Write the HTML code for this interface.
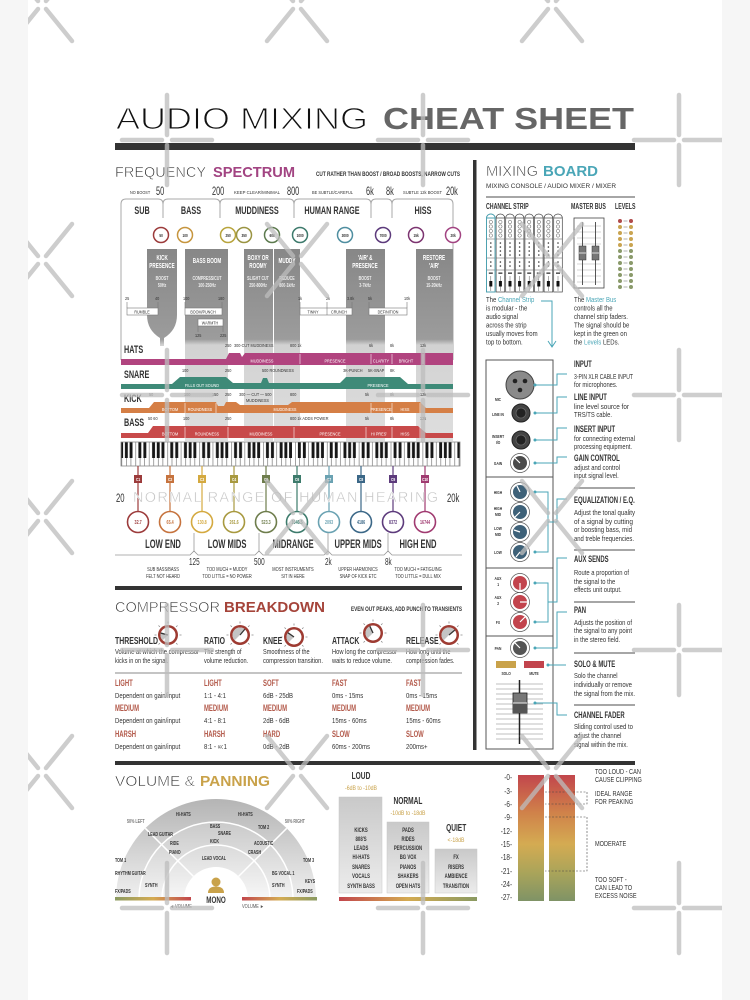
<!DOCTYPE html>
<html><head><meta charset="utf-8">
<style>
html,body{margin:0;padding:0;background:#f6f6f6;}
svg{display:block}
text{font-family:"Liberation Sans Narrow","Liberation Sans",sans-serif;fill:#333;transform-box:fill-box;transform-origin:0 50%;transform:scaleX(.8)}
.b{font-weight:bold}
.b text, text.b{transform:scaleX(.66)}
.c6 text, text.c6{transform:scaleX(.64)}
.m{text-anchor:middle}
.m text, text.m{transform-origin:50% 50%}
.r{text-anchor:end}
.r text, text.r{transform-origin:100% 50%}
.w{fill:#fff}
.g{fill:#555}
.h{font-family:"Liberation Sans",sans-serif}
text.h, text[textLength]{transform:none}
.thin{stroke:#fff;paint-order:normal}
</style></head><body>
<svg width="750" height="1000" viewBox="0 0 750 1000" xmlns="http://www.w3.org/2000/svg">
<defs>
<linearGradient id="col" gradientUnits="userSpaceOnUse" x1="0" y1="249" x2="0" y2="441">
<stop offset="0" stop-color="#878787"/><stop offset="0.47" stop-color="#9c9c9c"/><stop offset="0.5" stop-color="#d2d2d2"/><stop offset="1" stop-color="#dedede"/></linearGradient>
<linearGradient id="meter" x1="0" y1="0" x2="0" y2="1">
<stop offset="0" stop-color="#c2464c"/><stop offset="0.3" stop-color="#d0824a"/><stop offset="0.55" stop-color="#d4ab52"/><stop offset="0.78" stop-color="#a9a45a"/><stop offset="1" stop-color="#7f9366"/></linearGradient>
<linearGradient id="hb" x1="0" y1="0" x2="1" y2="0">
<stop offset="0" stop-color="#c2464c"/><stop offset="0.5" stop-color="#d4ab52"/><stop offset="1" stop-color="#8a9a62"/></linearGradient>
<linearGradient id="hbl" x1="0" y1="0" x2="1" y2="0">
<stop offset="0" stop-color="#8a9a62"/><stop offset="0.5" stop-color="#d4ab52"/><stop offset="1" stop-color="#c2464c"/></linearGradient>
<linearGradient id="box" x1="0" y1="0" x2="0" y2="1">
<stop offset="0" stop-color="#c9c9c9"/><stop offset="1" stop-color="#ececec"/></linearGradient>
<linearGradient id="r1" gradientUnits="userSpaceOnUse" x1="0" y1="800" x2="0" y2="899">
<stop offset="0" stop-color="#b5b5b5"/><stop offset="1" stop-color="#f0f0f0"/></linearGradient>
<linearGradient id="r2" gradientUnits="userSpaceOnUse" x1="0" y1="822" x2="0" y2="899">
<stop offset="0" stop-color="#cacaca"/><stop offset="1" stop-color="#f3f3f3"/></linearGradient>
<linearGradient id="r3" gradientUnits="userSpaceOnUse" x1="0" y1="845" x2="0" y2="899">
<stop offset="0" stop-color="#dadada"/><stop offset="1" stop-color="#f7f7f7"/></linearGradient>
<pattern id="pk" patternUnits="userSpaceOnUse" x="135.5" y="442" width="31.9" height="24">
<rect width="31.9" height="24" fill="#fff"/>
<g stroke="#666" stroke-width="0.6">
<line x1="0.3" y1="0" x2="0.3" y2="24"/><line x1="4.56" y1="0" x2="4.56" y2="24"/><line x1="9.11" y1="0" x2="9.11" y2="24"/><line x1="13.67" y1="0" x2="13.67" y2="24"/><line x1="18.23" y1="0" x2="18.23" y2="24"/><line x1="22.79" y1="0" x2="22.79" y2="24"/><line x1="27.34" y1="0" x2="27.34" y2="24"/>
</g>
<g fill="#161616">
<rect x="2.9" y="0" width="2.9" height="16"/><rect x="7.9" y="0" width="2.9" height="16"/><rect x="16.6" y="0" width="2.9" height="16"/><rect x="21.3" y="0" width="2.9" height="16"/><rect x="26.0" y="0" width="2.9" height="16"/>
</g>
</pattern>
<clipPath id="top"><rect x="0" y="0" width="750" height="899"/></clipPath>
<clipPath id="page"><rect x="28" y="0" width="694" height="1000"/></clipPath>
<g id="cs">
<path d="M0.5,0 A4.3,4 0 0 1 9.1,0" fill="none" stroke="#444" stroke-width="0.7"/>
<rect x="0.5" y="0" width="8.6" height="74" fill="#fff" stroke="#444" stroke-width="0.7"/>
<g fill="none" stroke="#555" stroke-width="0.5"><circle cx="4.8" cy="4" r="1.7"/><circle cx="4.8" cy="8.5" r="1.7"/><circle cx="4.8" cy="13" r="1.7"/><circle cx="4.8" cy="17.5" r="1.7"/></g>
<g stroke="#555" stroke-width="0.5"><line x1="0.5" y1="21" x2="9.1" y2="21"/><line x1="0.5" y1="40" x2="9.1" y2="40"/><line x1="0.5" y1="52" x2="9.1" y2="52"/><line x1="4.8" y1="58" x2="4.8" y2="73"/></g>
<g fill="#333"><circle cx="4.8" cy="25" r="0.8"/><circle cx="4.8" cy="29" r="0.8"/><circle cx="4.8" cy="33" r="0.8"/><circle cx="4.8" cy="37" r="0.8"/><circle cx="4.8" cy="44" r="0.8"/><circle cx="4.8" cy="48" r="0.8"/><rect x="2.8" y="54.5" width="4" height="1.3"/><rect x="3.3" y="63" width="3" height="5.5" fill="#111"/></g>
</g>
</defs>

<rect width="750" height="1000" fill="#f6f6f6"/>
<rect x="28" y="0" width="694" height="1000" fill="#fff"/>

<!-- TITLE -->
<text x="116" y="129" font-size="31" class="h thin" stroke-width="1.1" style="fill:#111" textLength="252" lengthAdjust="spacingAndGlyphs">AUDIO MIXING</text>
<text x="383" y="129" font-size="31" class="h b" style="fill:#666" textLength="251" lengthAdjust="spacingAndGlyphs">CHEAT SHEET</text>
<rect x="115" y="143" width="520" height="7" fill="#333"/>

<!-- FREQUENCY SPECTRUM -->
<text x="115" y="177" font-size="15" class="h thin" stroke-width="0.6" style="fill:#222" textLength="91" lengthAdjust="spacingAndGlyphs">FREQUENCY</text>
<text x="213" y="177" font-size="15" class="h b" style="fill:#a24482" textLength="82" lengthAdjust="spacingAndGlyphs">SPECTRUM</text>
<text x="316" y="176" font-size="6.3" class="b" textLength="144" lengthAdjust="spacingAndGlyphs">CUT RATHER THAN BOOST  /  BROAD BOOSTS, NARROW CUTS</text>

<g font-size="4.8" class="g">
<text x="130" y="194">NO BOOST</text>
<text x="234" y="194" textLength="46" lengthAdjust="spacingAndGlyphs">KEEP CLEAR/MINIMAL</text>
<text x="312" y="194" textLength="41" lengthAdjust="spacingAndGlyphs">BE SUBTLE/CAREFUL</text>
<text x="403" y="194" textLength="39" lengthAdjust="spacingAndGlyphs">SUBTLE 12k BOOST</text>
</g>
<g font-size="11.5" class="c6">
<text x="156" y="195">50</text><text x="212" y="195">200</text><text x="287" y="195">800</text><text x="366" y="195">6k</text><text x="386" y="195">8k</text><text x="446" y="195">20k</text>
</g>

<!-- tabs -->
<g fill="none" stroke="#a8a8a8" stroke-width="1">
<path d="M121,360 V204 Q121,199 126,199 H158 Q163,199 163,204 V218"/>
<path d="M163,218 V204 Q163,199 168,199 H215 Q220,199 220,204 V218"/>
<path d="M220,218 V204 Q220,199 225,199 H289 Q294,199 294,204 V218"/>
<path d="M294,218 V204 Q294,199 299,199 H366 Q371,199 371,204 V218"/>
<path d="M371,218 V204 Q371,199 376,199 H387 Q392,199 392,204 V218"/>
<path d="M392,218 V204 Q392,199 397,199 H448 Q453,199 453,204 V360"/>
</g>
<g font-size="11" class="b m" style="fill:#333">
<text x="142" y="214">SUB</text><text x="191" y="214">BASS</text><text x="257" y="214">MUDDINESS</text><text x="332" y="214">HUMAN RANGE</text><text x="423" y="214">HISS</text>
</g>

<!-- gray columns -->
<g fill="url(#col)">
<path d="M147,249 H177 V315 Q177,330 164,338 V346 H160 V338 Q147,330 147,315 Z"/>
<rect x="185" y="249" width="43" height="192"/>
<rect x="244" y="249" width="29" height="192"/>
<rect x="274" y="249" width="26" height="192"/>
<rect x="346" y="249" width="39" height="192"/>
<rect x="416" y="249" width="37" height="192"/>
</g>
<g font-size="7" class="b m">
<text x="162" y="260" class="w">KICK</text><text x="162" y="268" class="w">PRESENCE</text>
<text x="207" y="263" class="w">BASS BOOM</text>
<text x="258" y="260" class="w">BOXY OR</text><text x="258" y="268" class="w">ROOMY</text>
<text x="287" y="263" class="w">MUDDY</text>
<text x="365" y="260" class="w">'AIR' &amp;</text><text x="365" y="268" class="w">PRESENCE</text>
<text x="434" y="260" class="w">RESTORE</text><text x="434" y="268" class="w">'AIR'</text>
</g>
<g font-size="5.5" class="b m">
<text x="162" y="280" style="fill:#eee">BOOST</text><text x="162" y="287" style="fill:#eee">50Hz</text>
<text x="207" y="280" style="fill:#eee">COMPRESS/CUT</text><text x="207" y="287" style="fill:#eee">100-250Hz</text>
<text x="258" y="280" style="fill:#eee">SLIGHT CUT</text><text x="258" y="287" style="fill:#eee">250-800Hz</text>
<text x="287" y="280" style="fill:#eee">REDUCE</text><text x="287" y="287" style="fill:#eee">800-1kHz</text>
<text x="365" y="280" style="fill:#eee">BOOST</text><text x="365" y="287" style="fill:#eee">3-7kHz</text>
<text x="434" y="280" style="fill:#eee">BOOST</text><text x="434" y="287" style="fill:#eee">15-20kHz</text>
</g>

<!-- top frequency circles -->
<g fill="#fff" stroke-width="1.5">
<circle cx="161" cy="235" r="7.5" stroke="#9c3b3b"/>
<circle cx="185" cy="235" r="7.5" stroke="#c6953e"/>
<circle cx="228" cy="235" r="7.5" stroke="#b8a43c"/>
<circle cx="244" cy="235" r="7.5" stroke="#9a9442"/>
<circle cx="272" cy="235" r="7.5" stroke="#5c7a4e"/>
<circle cx="300" cy="235" r="7.5" stroke="#3d7a6c"/>
<circle cx="345" cy="235" r="7.5" stroke="#4f8ea0"/>
<circle cx="383" cy="235" r="7.5" stroke="#5d3b7c"/>
<circle cx="416" cy="235" r="7.5" stroke="#7c3470"/>
<circle cx="453" cy="235" r="7.5" stroke="#a24482"/>
</g>
<g font-size="4.8" class="b m">
<text x="161" y="237">50</text><text x="185" y="237">100</text><text x="228" y="237">250</text><text x="244" y="237">350</text><text x="272" y="237">600</text><text x="300" y="237">1000</text><text x="345" y="237">3000</text><text x="383" y="237">7000</text><text x="416" y="237">15k</text><text x="453" y="237">20k</text>
</g>

<!-- brackets -->
<g font-size="4.8" class="g">
<text x="125" y="300">25</text><text x="155" y="300">40</text>
<text x="183" y="300">100</text><text x="218" y="300">180</text>
<text x="298" y="300">1k</text><text x="326" y="300">2k</text><text x="347" y="300">3.8k</text>
<text x="368" y="300">5k</text><text x="404" y="300">10k</text>
<text x="195" y="337">125</text><text x="220" y="337">225</text>
</g>
<g fill="#fff" stroke="#777" stroke-width="0.6">
<rect x="127" y="308" width="31" height="7"/>
<rect x="185" y="308" width="37" height="7"/>
<rect x="198" y="319" width="25" height="7"/>
<rect x="300" y="308" width="52" height="7"/>
<rect x="369" y="308" width="38" height="7"/>
<path d="M127,302 V308 M158,302 V308 M185,302 V308 M222,302 V308 M198,326 V332 M223,326 V332 M300,302 V308 M327,302 V315 M352,302 V308 M369,302 V308 M407,302 V308" fill="none"/>
</g>
<g font-size="4.6" class="m">
<text x="142" y="313.5">RUMBLE</text><text x="203" y="313.5">BOOM/PUNCH</text><text x="210" y="324.5">WARMTH</text>
<text x="313" y="313.5">TINNY</text><text x="339" y="313.5">CRUNCH</text><text x="388" y="313.5">DEFINITION</text>
</g>

<!-- bands -->
<g font-size="11" class="b">
<text x="124" y="353">HATS</text><text x="124" y="378">SNARE</text><text x="124" y="402">KICK</text><text x="124" y="426">BASS</text>
</g>
<g font-size="4.8" class="g">
<text x="225" y="347">250</text><text x="234" y="347">300-CUT MUDDINESS</text><text x="290" y="347">800 1k</text><text x="369" y="347">6k</text><text x="390" y="347">8k</text><text x="420" y="347">12k</text>
<text x="182" y="372">100</text><text x="225" y="372">250</text><text x="262" y="372">500 ROUNDNESS</text><text x="343" y="372">3K-PUNCH</text><text x="368" y="372">5K-SNAP</text><text x="390" y="372">8K</text>
<text x="149" y="396">50</text><text x="184" y="396">100</text><text x="212" y="396">150</text><text x="225" y="396">250</text><text x="239" y="396">300 — CUT — 500</text><text x="246" y="402">MUDDINESS</text><text x="290" y="396">800</text><text x="365" y="396">5k</text><text x="390" y="396">8k</text><text x="420" y="396">12k</text>
<text x="148" y="420">50 60</text><text x="183" y="420">100</text><text x="225" y="420">250</text><text x="290" y="420">800 1k ADDS POWER</text><text x="365" y="420">5k</text><text x="390" y="420">8k</text><text x="420" y="420">12k</text>
</g>
<polygon fill="#b1447f" points="121,359 226,359 229,353 240,353 242,357 245,353 453,353 453,365 121,365"/>
<polygon fill="#3e8a78" points="121,384 172,384 180,377 226,377 233,383 261,383 263,378 267,378 269,383 340,383 346,377 400,377 408,384 453,384 453,389 121,389"/>
<polygon fill="#d57f46" points="121,408 149,408 154,402 216,402 218,406 224,406 226,402 236,402 240,405 288,405 292,402 420,402 426,408 453,408 453,413 121,413"/>
<polygon fill="#c84a4a" points="121,433 148,433 153,426 418,426 426,433 453,433 453,438 121,438"/>
<g stroke="#fff" stroke-width="0.7" opacity="0.8">
<path d="M300,354 V364 M371,354 V364 M392,354 V364 M423,354 V364 M185,403 V413 M216,403 V413 M371,403 V413 M392,403 V413 M420,403 V413 M185,427 V438 M228,427 V438 M294,427 V438 M366,427 V438 M392,427 V438 M420,427 V438"/>
</g>
<g font-size="4.8" class="m">
<text x="262" y="362.5" class="w">MUDDINESS</text><text x="335" y="362.5" class="w">PRESENCE</text><text x="381" y="362.5" class="w">CLARITY</text><text x="406" y="362.5" class="w">BRIGHT</text>
<text x="202" y="387" class="w">FILLS OUT SOUND</text><text x="378" y="387" class="w">PRESENCE</text>
<text x="170" y="411" class="w">BOTTOM</text><text x="200" y="411" class="w">ROUNDNESS</text><text x="285" y="411" class="w">MUDDINESS</text><text x="381" y="411" class="w">PRESENCE</text><text x="405" y="411" class="w">HISS</text>
<text x="170" y="435.5" class="w">BOTTOM</text><text x="207" y="435.5" class="w">ROUNDNESS</text><text x="261" y="435.5" class="w">MUDDINESS</text><text x="330" y="435.5" class="w">PRESENCE</text><text x="379" y="435.5" class="w">HI PRES'</text><text x="405" y="435.5" class="w">HISS</text>
</g>

<!-- piano -->
<rect x="121" y="442" width="339" height="24" fill="url(#pk)" stroke="#888" stroke-width="0.8"/>

<!-- C labels & circles -->
<g stroke-width="1.2">
<line x1="138" y1="466" x2="138" y2="512" stroke="#9c3b3b"/>
<line x1="170" y1="466" x2="170" y2="512" stroke="#c6733e"/>
<line x1="202" y1="466" x2="202" y2="512" stroke="#d4a93f"/>
<line x1="234" y1="466" x2="234" y2="512" stroke="#a8993f"/>
<line x1="266" y1="466" x2="266" y2="512" stroke="#6e7d4c"/>
<line x1="297" y1="466" x2="297" y2="512" stroke="#3d7b6c"/>
<line x1="329" y1="466" x2="329" y2="512" stroke="#6aa2b2"/>
<line x1="361" y1="466" x2="361" y2="512" stroke="#3b6787"/>
<line x1="393" y1="466" x2="393" y2="512" stroke="#5d3b7c"/>
<line x1="425" y1="466" x2="425" y2="512" stroke="#a03a70"/>
</g>
<g>
<rect x="134" y="475" width="8" height="8" fill="#9c3b3b"/>
<rect x="166" y="475" width="8" height="8" fill="#c6733e"/>
<rect x="198" y="475" width="8" height="8" fill="#d4a93f"/>
<rect x="230" y="475" width="8" height="8" fill="#a8993f"/>
<rect x="262" y="475" width="8" height="8" fill="#6e7d4c"/>
<rect x="293" y="475" width="8" height="8" fill="#3d7b6c"/>
<rect x="325" y="475" width="8" height="8" fill="#6aa2b2"/>
<rect x="357" y="475" width="8" height="8" fill="#3b6787"/>
<rect x="389" y="475" width="8" height="8" fill="#5d3b7c"/>
<rect x="421" y="475" width="8" height="8" fill="#a03a70"/>
</g>
<g font-size="5" class="b m">
<text x="138" y="481" class="w">C1</text><text x="170" y="481" class="w">C2</text><text x="202" y="481" class="w">C3</text><text x="234" y="481" class="w">C4</text><text x="266" y="481" class="w">C5</text><text x="297" y="481" class="w">C6</text><text x="329" y="481" class="w">C7</text><text x="361" y="481" class="w">C8</text><text x="393" y="481" class="w">C9</text><text x="425" y="481" class="w">C10</text>
</g>
<text x="116" y="502" font-size="12" class="c6">20</text>
<text x="133" y="502" font-size="14.5" class="h thin" stroke-width="0.4" style="fill:#c4c4c4" textLength="305" lengthAdjust="spacing">NORMAL RANGE OF HUMAN HEARING</text>
<text x="447" y="502" font-size="12" class="c6">20k</text>
<g fill="#fff" stroke-width="1.6">
<circle cx="138" cy="522" r="10.5" stroke="#9c3b3b"/>
<circle cx="170" cy="522" r="10.5" stroke="#c6733e"/>
<circle cx="202" cy="522" r="10.5" stroke="#d4a93f"/>
<circle cx="234" cy="522" r="10.5" stroke="#a8993f"/>
<circle cx="266" cy="522" r="10.5" stroke="#6e7d4c"/>
<circle cx="297" cy="522" r="10.5" stroke="#3d7b6c"/>
<circle cx="329" cy="522" r="10.5" stroke="#6aa2b2"/>
<circle cx="361" cy="522" r="10.5" stroke="#3b6787"/>
<circle cx="393" cy="522" r="10.5" stroke="#5d3b7c"/>
<circle cx="425" cy="522" r="10.5" stroke="#a03a70"/>
</g>
<g font-size="5.5" class="b m">
<text x="138" y="524" style="fill:#9c3b3b">32.7</text><text x="170" y="524" style="fill:#c6733e">65.4</text><text x="202" y="524" style="fill:#d4a93f">130.8</text><text x="234" y="524" style="fill:#a8993f">261.6</text><text x="266" y="524" style="fill:#6e7d4c">523.3</text><text x="297" y="524" style="fill:#3d7b6c">1046.5</text><text x="329" y="524" style="fill:#6aa2b2">2093</text><text x="361" y="524" style="fill:#3b6787">4186</text><text x="393" y="524" style="fill:#5d3b7c">8372</text><text x="425" y="524" style="fill:#a03a70">16744</text>
</g>
<g font-size="11.5" class="b m">
<text x="163" y="548">LOW END</text><text x="227" y="548">LOW MIDS</text><text x="293" y="548">MIDRANGE</text><text x="358" y="548">UPPER MIDS</text><text x="418" y="548">HIGH END</text>
</g>
<g stroke="#999" stroke-width="0.8" fill="none">
<path d="M115,555 H190 L194,551 L198,555 H255 L259,551 L263,555 H324 L328,551 L332,555 H384 L388,551 L392,555 H462"/>
<path d="M194,533 V551 M259,533 V551 M328,533 V551 M388,533 V551"/>
</g>
<g font-size="10" class="c6">
<text x="189" y="565">125</text><text x="254" y="565">500</text><text x="325" y="565">2k</text><text x="385" y="565">8k</text>
</g>
<g font-size="5" class="m g">
<text x="163" y="571">SUB BASS/BASS</text><text x="163" y="578">FELT NOT HEARD</text>
<text x="227" y="571">TOO MUCH = MUDDY</text><text x="227" y="578">TOO LITTLE = NO POWER</text>
<text x="293" y="571">MOST INSTRUMENTS</text><text x="293" y="578">SIT IN HERE</text>
<text x="358" y="571">UPPER HARMONICS</text><text x="358" y="578">SNAP OF KICK ETC</text>
<text x="418" y="571">TOO MUCH = FATIGUING</text><text x="418" y="578">TOO LITTLE = DULL MIX</text>
</g>
<rect x="115" y="586" width="347" height="4" fill="#333"/>

<!-- COMPRESSOR -->
<text x="115" y="612" font-size="15" class="h thin" stroke-width="0.6" style="fill:#222" textLength="105" lengthAdjust="spacingAndGlyphs">COMPRESSOR</text>
<text x="224" y="612" font-size="15" class="h b" style="fill:#a5443a" textLength="101" lengthAdjust="spacingAndGlyphs">BREAKDOWN</text>
<text x="351" y="611" font-size="6.3" class="b" textLength="111" lengthAdjust="spacingAndGlyphs">EVEN OUT PEAKS, ADD PUNCH TO TRANSIENTS</text>

<g id="knobs">
<g transform="translate(168,635)">
<g stroke="#888" stroke-width="0.8"><path d="M0,-11.5 V-13.5 M8.1,-8.1 L9.5,-9.5 M-8.1,-8.1 L-9.5,-9.5 M11.5,0 H13.5 M-11.5,0 H-13.5 M8.1,8.1 L9.5,9.5 M-8.1,8.1 L-9.5,9.5"/></g>
<circle r="10" fill="#9e3b32"/><circle r="7.5" fill="#fff"/>
<path d="M0,0 L-5.3,5.3 A7.5,7.5 0 0 1 -7.24,-1.94 Z" fill="#c4c4c4"/>
<line x1="0" y1="0" x2="-7.24" y2="-1.94" stroke="#333" stroke-width="1.3"/>
</g>
<g transform="translate(240,635)">
<g stroke="#888" stroke-width="0.8"><path d="M0,-11.5 V-13.5 M8.1,-8.1 L9.5,-9.5 M-8.1,-8.1 L-9.5,-9.5 M11.5,0 H13.5 M-11.5,0 H-13.5 M8.1,8.1 L9.5,9.5 M-8.1,8.1 L-9.5,9.5"/></g>
<circle r="10" fill="#9e3b32"/><circle r="7.5" fill="#fff"/>
<path d="M0,0 L-5.3,5.3 A7.5,7.5 0 0 1 4.82,-5.75 Z" fill="#c4c4c4"/>
<line x1="0" y1="0" x2="4.82" y2="-5.75" stroke="#333" stroke-width="1.3"/>
</g>
<g transform="translate(294,637)">
<g stroke="#888" stroke-width="0.8"><path d="M0,-11.5 V-13.5 M8.1,-8.1 L9.5,-9.5 M-8.1,-8.1 L-9.5,-9.5 M11.5,0 H13.5 M-11.5,0 H-13.5 M8.1,8.1 L9.5,9.5 M-8.1,8.1 L-9.5,9.5"/></g>
<circle r="10" fill="#9e3b32"/><circle r="7.5" fill="#fff"/>
<path d="M0,0 L-5.3,5.3 A7.5,7.5 0 0 1 -6.14,-4.3 Z" fill="#c4c4c4"/>
<line x1="0" y1="0" x2="-6.14" y2="-4.3" stroke="#333" stroke-width="1.3"/>
</g>
<g transform="translate(373,633)">
<g stroke="#888" stroke-width="0.8"><path d="M0,-11.5 V-13.5 M8.1,-8.1 L9.5,-9.5 M-8.1,-8.1 L-9.5,-9.5 M11.5,0 H13.5 M-11.5,0 H-13.5 M8.1,8.1 L9.5,9.5 M-8.1,8.1 L-9.5,9.5"/></g>
<circle r="10" fill="#9e3b32"/><circle r="7.5" fill="#fff"/>
<path d="M0,0 L-5.3,5.3 A7.5,7.5 0 0 1 -3.17,-6.8 Z" fill="#c4c4c4"/>
<line x1="0" y1="0" x2="-3.17" y2="-6.8" stroke="#333" stroke-width="1.3"/>
</g>
<g transform="translate(449,635)">
<g stroke="#888" stroke-width="0.8"><path d="M0,-11.5 V-13.5 M8.1,-8.1 L9.5,-9.5 M-8.1,-8.1 L-9.5,-9.5 M11.5,0 H13.5 M-11.5,0 H-13.5 M8.1,8.1 L9.5,9.5 M-8.1,8.1 L-9.5,9.5"/></g>
<circle r="10" fill="#9e3b32"/><circle r="7.5" fill="#fff"/>
<path d="M0,0 L-5.3,5.3 A7.5,7.5 0 1 1 5.75,-4.82 Z" fill="#c4c4c4"/>
<line x1="0" y1="0" x2="5.75" y2="-4.82" stroke="#333" stroke-width="1.3"/>
</g>
</g>
<g font-size="10.5" class="b">
<text x="115" y="644">THRESHOLD</text><text x="204" y="644">RATIO</text><text x="263" y="644">KNEE</text><text x="332" y="644">ATTACK</text><text x="406" y="644">RELEASE</text>
</g>
<g font-size="7">
<text x="115" y="654" textLength="84" lengthAdjust="spacingAndGlyphs">Volume at which the compressor</text><text x="115" y="663">kicks in on the signal.</text>
<text x="204" y="654">The strength of</text><text x="204" y="663">volume reduction.</text>
<text x="263" y="654">Smoothness of the</text><text x="263" y="663" textLength="60" lengthAdjust="spacingAndGlyphs">compression transition.</text>
<text x="332" y="654" textLength="65" lengthAdjust="spacingAndGlyphs">How long the compressor</text><text x="332" y="663" textLength="60" lengthAdjust="spacingAndGlyphs">waits to reduce volume.</text>
<text x="406" y="654">How long until the</text><text x="406" y="663">compression fades.</text>
</g>
<line x1="115" y1="673" x2="462" y2="673" stroke="#888" stroke-width="1"/>
<g font-size="9" class="b">
<text x="115" y="686" style="fill:#b35a4b">LIGHT</text><text x="204" y="686" style="fill:#b35a4b">LIGHT</text><text x="263" y="686" style="fill:#b35a4b">SOFT</text><text x="332" y="686" style="fill:#b35a4b">FAST</text><text x="406" y="686" style="fill:#b35a4b">FAST</text>
<text x="115" y="711" style="fill:#b35a4b">MEDIUM</text><text x="204" y="711" style="fill:#b35a4b">MEDIUM</text><text x="263" y="711" style="fill:#b35a4b">MEDIUM</text><text x="332" y="711" style="fill:#b35a4b">MEDIUM</text><text x="406" y="711" style="fill:#b35a4b">MEDIUM</text>
<text x="115" y="737" style="fill:#b35a4b">HARSH</text><text x="204" y="737" style="fill:#b35a4b">HARSH</text><text x="263" y="737" style="fill:#b35a4b">HARD</text><text x="332" y="737" style="fill:#b35a4b">SLOW</text><text x="406" y="737" style="fill:#b35a4b">SLOW</text>
</g>
<g font-size="7.5">
<text x="115" y="698">Dependent on gain/input</text><text x="204" y="698">1:1 - 4:1</text><text x="263" y="698">6dB - 25dB</text><text x="332" y="698">0ms - 15ms</text><text x="406" y="698">0ms - 15ms</text>
<text x="115" y="723">Dependent on gain/input</text><text x="204" y="723">4:1 - 8:1</text><text x="263" y="723">2dB - 6dB</text><text x="332" y="723">15ms - 60ms</text><text x="406" y="723">15ms - 60ms</text>
<text x="115" y="749">Dependent on gain/input</text><text x="204" y="749">8:1 - ∞:1</text><text x="263" y="749">0dB - 2dB</text><text x="332" y="749">60ms - 200ms</text><text x="406" y="749">200ms+</text>
</g>
<rect x="115" y="761" width="520" height="4" fill="#333"/>

<!-- VOLUME & PANNING -->
<text x="115" y="786" font-size="15" class="h thin" stroke-width="0.6" style="fill:#222" textLength="80" lengthAdjust="spacingAndGlyphs">VOLUME &amp;</text>
<text x="200" y="786" font-size="15" class="h b" style="fill:#c9a24a" textLength="70" lengthAdjust="spacingAndGlyphs">PANNING</text>
<g clip-path="url(#top)">
<circle cx="216" cy="899" r="100" fill="url(#r1)"/>
<circle cx="216" cy="899" r="77" fill="url(#r2)" stroke="#fff" stroke-width="1.5"/>
<circle cx="216" cy="899" r="54" fill="url(#r3)" stroke="#fff" stroke-width="1.5"/>
<circle cx="216" cy="899" r="32" fill="#fff"/>
<path d="M193.4,876.4 L145.3,828.3 M238.6,876.4 L286.7,828.3" stroke="#fff" stroke-width="1.5"/>
</g>
<g font-size="5.6" class="b">
<text x="127" y="823" style="fill:#777">50% LEFT</text><text x="285" y="823" style="fill:#777">50% RIGHT</text>
<text x="176" y="816">HI-HATS</text><text x="238" y="816">HI-HATS</text>
<text x="210" y="828">BASS</text><text x="218" y="835">SNARE</text><text x="210" y="843">KICK</text>
<text x="258" y="829">TOM 2</text>
<text x="148" y="836">LEAD GUITAR</text><text x="170" y="845">RIDE</text><text x="169" y="854">PIANO</text>
<text x="254" y="845">ACOUSTIC</text><text x="248" y="854">CRASH</text>
<text x="202" y="860">LEAD VOCAL</text>
<text x="115" y="862">TOM 1</text><text x="303" y="862">TOM 3</text>
<text x="115" y="875">RHYTHM GUITAR</text><text x="272" y="875">BG VOCAL 1</text>
<text x="145" y="887">SYNTH</text><text x="272" y="887">SYNTH</text><text x="305" y="883">KEYS</text>
<text x="115" y="893">FX/PADS</text><text x="297" y="893">FX/PADS</text>
</g>
<circle cx="216" cy="882" r="4.5" fill="#c9a24a"/>
<path d="M208,893 Q208,886.5 216,886.5 Q224,886.5 224,893 Z" fill="#c9a24a"/>
<text x="216" y="903" font-size="9.5" class="b m">MONO</text>
<rect x="115" y="897" width="76" height="3.5" fill="url(#hbl)"/>
<rect x="242" y="897" width="75" height="3.5" fill="url(#hb)"/>
<text x="170" y="908" font-size="5" class="g">◄ VOLUME</text>
<text x="242" y="908" font-size="5" class="g">VOLUME ►</text>

<!-- loudness boxes -->
<rect x="339" y="797" width="43" height="96" fill="url(#box)" stroke="#c8c8c8" stroke-width="0.5"/>
<rect x="387" y="822" width="42" height="71" fill="url(#box)" stroke="#c8c8c8" stroke-width="0.5"/>
<rect x="435" y="849" width="42" height="44" fill="url(#box)" stroke="#c8c8c8" stroke-width="0.5"/>
<rect x="339" y="897" width="138" height="4" fill="url(#hb)"/>
<g font-size="10" class="b m">
<text x="361" y="779">LOUD</text><text x="408" y="804">NORMAL</text><text x="456" y="831">QUIET</text>
</g>
<g font-size="6.5" class="m">
<text x="361" y="790" style="fill:#c9a24a">-6dB to -10dB</text><text x="408" y="815" style="fill:#c9a24a">-10dB to -18dB</text><text x="456" y="842" style="fill:#c9a24a">&lt;-18dB</text>
</g>
<g font-size="6.5" class="b m">
<text x="361" y="832">KICKS</text><text x="361" y="841">808'S</text><text x="361" y="850">LEADS</text><text x="361" y="859">HI-HATS</text><text x="361" y="869">SNARES</text><text x="361" y="878">VOCALS</text><text x="361" y="888">SYNTH BASS</text>
<text x="408" y="832">PADS</text><text x="408" y="841">RIDES</text><text x="408" y="850">PERCUSSION</text><text x="408" y="859">BG VOX</text><text x="408" y="869">PIANOS</text><text x="408" y="878">SHAKERS</text><text x="408" y="888">OPEN HATS</text>
<text x="456" y="859">FX</text><text x="456" y="869">RISERS</text><text x="456" y="878">AMBIENCE</text><text x="456" y="888">TRANSITION</text>
</g>

<!-- meter -->
<rect x="518" y="775" width="26" height="126" fill="url(#meter)"/>
<rect x="549" y="775" width="26" height="126" fill="url(#meter)"/>
<g font-size="8" class="r">
<text x="512" y="780">-0-</text><text x="512" y="794">-3-</text><text x="512" y="807">-6-</text><text x="512" y="820">-9-</text><text x="512" y="834">-12-</text><text x="512" y="847">-15-</text><text x="512" y="860">-18-</text><text x="512" y="874">-21-</text><text x="512" y="887">-24-</text><text x="512" y="900">-27-</text>
</g>
<g fill="none" stroke="#444" stroke-width="0.6" stroke-dasharray="2,1.5">
<path d="M545,792 H587 V804 H545"/>
<path d="M545,817 H587 V871 H545"/>
</g>
<g font-size="7">
<text x="595" y="774">TOO LOUD - CAN</text><text x="595" y="782">CAUSE CLIPPING</text>
<text x="595" y="796">IDEAL RANGE</text><text x="595" y="804">FOR PEAKING</text>
<text x="595" y="846">MODERATE</text>
<text x="595" y="882">TOO SOFT -</text><text x="595" y="890">CAN LEAD TO</text><text x="595" y="898">EXCESS NOISE</text>
</g>

<!-- MIXING BOARD -->
<rect x="473" y="160" width="3.5" height="590" fill="#333"/>
<text x="486" y="176" font-size="15" class="h thin" stroke-width="0.6" style="fill:#222" textLength="52" lengthAdjust="spacingAndGlyphs">MIXING</text>
<text x="543" y="176" font-size="15" class="h b" style="fill:#4aa6b7" textLength="55" lengthAdjust="spacingAndGlyphs">BOARD</text>
<text x="486" y="188" font-size="6" textLength="130" lengthAdjust="spacingAndGlyphs">MIXING CONSOLE / AUDIO MIXER / MIXER</text>
<line x1="486" y1="197" x2="635" y2="197" stroke="#888" stroke-width="1.5"/>
<g font-size="8" class="b">
<text x="486" y="209">CHANNEL STRIP</text><text x="571" y="209">MASTER BUS</text><text x="615" y="209">LEVELS</text>
</g>
<use href="#cs" x="486" y="218"/><use href="#cs" x="495.6" y="218"/><use href="#cs" x="505.2" y="218"/><use href="#cs" x="514.8" y="218"/><use href="#cs" x="524.4" y="218"/><use href="#cs" x="534" y="218"/><use href="#cs" x="543.6" y="218"/><use href="#cs" x="553.2" y="218"/>
<rect x="486.5" y="218" width="8.6" height="74" fill="none" stroke="#4aa6b7" stroke-width="0.9"/>
<path d="M486.5,218 A4.3,4 0 0 1 495.1,218" fill="none" stroke="#4aa6b7" stroke-width="0.9"/>
<!-- master bus -->
<rect x="574" y="218" width="30" height="70" fill="#fff" stroke="#444" stroke-width="0.8"/>
<g stroke="#aaa" stroke-width="0.5"><path d="M577,226 H601 M577,232 H601 M577,238 H601 M577,244 H601 M577,264 H601 M577,270 H601 M577,276 H601 M577,282 H601"/></g>
<path d="M582.5,222 V285 M595.5,222 V285" stroke="#444" stroke-width="0.9"/>
<rect x="579" y="246" width="7" height="14" fill="#777" stroke="#333" stroke-width="0.5"/>
<rect x="592" y="246" width="7" height="14" fill="#777" stroke="#333" stroke-width="0.5"/>
<path d="M579,253 H586 M592,253 H599" stroke="#ddd" stroke-width="1"/>
<!-- levels -->
<g>
<circle cx="620" cy="221" r="2" fill="#b04a4a"/><circle cx="631" cy="221" r="2" fill="#b04a4a"/>
<circle cx="620" cy="227" r="2" fill="#c9a450"/><circle cx="631" cy="227" r="2" fill="#c9a450"/>
<circle cx="620" cy="233" r="2" fill="#c9a450"/><circle cx="631" cy="233" r="2" fill="#c9a450"/>
<circle cx="620" cy="239" r="2" fill="#c9a450"/><circle cx="631" cy="239" r="2" fill="#c9a450"/>
<circle cx="620" cy="245" r="2" fill="#c9a450"/><circle cx="631" cy="245" r="2" fill="#c9a450"/>
<circle cx="620" cy="251" r="2" fill="#8a9a6a"/><circle cx="631" cy="251" r="2" fill="#8a9a6a"/>
<circle cx="620" cy="257" r="2" fill="#8a9a6a"/><circle cx="631" cy="257" r="2" fill="#8a9a6a"/>
<circle cx="620" cy="263" r="2" fill="#8a9a6a"/><circle cx="631" cy="263" r="2" fill="#8a9a6a"/>
<circle cx="620" cy="269" r="2" fill="#8a9a6a"/><circle cx="631" cy="269" r="2" fill="#8a9a6a"/>
<circle cx="620" cy="275" r="2" fill="#8a9a6a"/><circle cx="631" cy="275" r="2" fill="#8a9a6a"/>
<circle cx="620" cy="281" r="2" fill="#8a9a6a"/><circle cx="631" cy="281" r="2" fill="#8a9a6a"/>
<circle cx="620" cy="287" r="2" fill="#8a9a6a"/><circle cx="631" cy="287" r="2" fill="#8a9a6a"/>
<path d="M623.5,221 H627.5 M623.5,227 H627.5 M623.5,233 H627.5 M623.5,239 H627.5 M623.5,245 H627.5 M623.5,251 H627.5 M623.5,257 H627.5 M623.5,263 H627.5 M623.5,269 H627.5 M623.5,275 H627.5 M623.5,281 H627.5 M623.5,287 H627.5" stroke="#999" stroke-width="0.7"/>
</g>
<g font-size="7.5">
<text x="486" y="302">The <tspan style="fill:#4aa6b7">Channel Strip</tspan></text>
<text x="486" y="310.5">is modular - the</text><text x="486" y="319">audio signal</text><text x="486" y="327.5">across the strip</text><text x="486" y="336">usually moves from</text><text x="486" y="344.5">top to bottom.</text>
<text x="574" y="302">The <tspan style="fill:#4aa6b7">Master Bus</tspan></text>
<text x="574" y="310.5">controls all the</text><text x="574" y="319">channel strip faders.</text><text x="574" y="327.5">The signal should be</text><text x="574" y="336">kept in the green on</text><text x="574" y="344.5">the <tspan style="fill:#4aa6b7">Levels</tspan> LEDs.</text>
</g>
<path d="M541,301 H552 V346 M548,341 L552,347 L556,341" fill="none" stroke="#4aa6b7" stroke-width="1"/>

<!-- mixer box -->
<rect x="486" y="360" width="67" height="389" fill="#fff" stroke="#555" stroke-width="1"/>
<path d="M486,477 H553 M486,568 H553 M486,636 H553" stroke="#555" stroke-width="1"/>
<circle cx="520" cy="385" r="14" fill="#8a8a8a" stroke="#444" stroke-width="1"/>
<circle cx="515" cy="381" r="2.3" fill="#222"/><circle cx="525" cy="381" r="2.3" fill="#222"/><circle cx="520" cy="390" r="2.3" fill="#222"/>
<circle cx="521" cy="413" r="9" fill="#444" stroke="#222" stroke-width="1"/><circle cx="521" cy="413" r="5" fill="#222" stroke="#666" stroke-width="0.8"/>
<circle cx="521" cy="440" r="9" fill="#444" stroke="#222" stroke-width="1"/><circle cx="521" cy="440" r="5" fill="#222" stroke="#666" stroke-width="0.8"/>
<g fill="#fff" stroke="#555" stroke-width="0.7">
<circle cx="520" cy="463" r="9.5"/><circle cx="520" cy="492" r="9.5"/><circle cx="520" cy="512" r="9.5"/><circle cx="520" cy="532" r="9.5"/><circle cx="520" cy="552" r="9.5"/>
<circle cx="520" cy="583" r="9.5"/><circle cx="520" cy="602" r="9.5"/><circle cx="520" cy="622" r="9.5"/><circle cx="520" cy="648" r="9.5"/>
</g>
<circle cx="520" cy="463" r="7" fill="#4a4a4a"/>
<g fill="#3e6178"><circle cx="520" cy="492" r="7"/><circle cx="520" cy="512" r="7"/><circle cx="520" cy="532" r="7"/><circle cx="520" cy="552" r="7"/></g>
<g fill="#c2444d"><circle cx="520" cy="583" r="7"/><circle cx="520" cy="602" r="7"/><circle cx="520" cy="622" r="7"/></g>
<circle cx="520" cy="648" r="7" fill="#555"/>
<g stroke="#fff" stroke-width="1.2">
<path d="M520,463 L515,458 M520,492 L517,486 M520,512 L515,517 M520,532 L514,530 M520,552 L516,557 M520,583 L520,590 M520,602 L527,602 M520,622 L525,617 M520,648 L515,643"/>
</g>
<rect x="496" y="661" width="20" height="7" fill="#c9a24a"/>
<rect x="524" y="661" width="20" height="7" fill="#c2444d"/>
<g stroke="#aaa" stroke-width="0.7"><path d="M496,684 H543 M496,689 H543 M496,694 H543 M496,699 H543 M496,704 H543 M496,709 H543 M496,714 H543 M496,719 H543 M496,724 H543 M496,729 H543 M496,734 H543 M496,739 H543"/></g>
<line x1="519.5" y1="680" x2="519.5" y2="744" stroke="#222" stroke-width="1.5"/>
<rect x="513" y="693" width="14" height="20" fill="#777" stroke="#222" stroke-width="0.8"/>
<rect x="513" y="703" width="14" height="10" fill="#555"/>
<line x1="513" y1="703" x2="527" y2="703" stroke="#eee" stroke-width="1"/>
<g font-size="5" class="b m">
<text x="498" y="401">MIC</text><text x="498" y="416">LINE IN</text><text x="498" y="438">INSERT</text><text x="498" y="444">I/O</text><text x="498" y="465">GAIN</text>
<text x="498" y="494">HIGH</text><text x="498" y="510">HIGH</text><text x="498" y="516">MID</text><text x="498" y="530">LOW</text><text x="498" y="536">MID</text><text x="498" y="554">LOW</text>
<text x="498" y="580">AUX</text><text x="498" y="586">1</text><text x="498" y="599">AUX</text><text x="498" y="605">2</text><text x="498" y="624">FX</text><text x="498" y="650">PAN</text>
<text x="506" y="675">SOLO</text><text x="534" y="675">MUTE</text>
</g>
<g fill="none" stroke="#4aa6b7" stroke-width="1">
<path d="M535,385 H557 V374 H567"/>
<path d="M535,413 H557 V397 H567"/>
<path d="M535,440 H557 V428 H567"/>
<path d="M535,463 H557 V457 H567"/>
<path d="M535,492 H548 V552 H535 M548,522 H557 V499 H567"/>
<path d="M535,583 H548 V622 H535 M548,602 H557 V558 H567"/>
<path d="M535,648 H557 V612 H567"/>
<path d="M548,665 H566"/>
<path d="M535,703 H557 V715 H567"/>
</g>
<g fill="#4aa6b7"><circle cx="535" cy="385" r="1.5"/><circle cx="535" cy="413" r="1.5"/><circle cx="535" cy="440" r="1.5"/><circle cx="535" cy="463" r="1.5"/><circle cx="535" cy="492" r="1.5"/><circle cx="535" cy="552" r="1.5"/><circle cx="535" cy="583" r="1.5"/><circle cx="535" cy="622" r="1.5"/><circle cx="535" cy="648" r="1.5"/><circle cx="548" cy="665" r="1.5"/><circle cx="535" cy="703" r="1.5"/></g>

<g font-size="9" class="b">
<text x="574" y="367">INPUT</text><text x="574" y="400">LINE INPUT</text><text x="574" y="432">INSERT INPUT</text><text x="574" y="461">GAIN CONTROL</text>
<text x="574" y="503">EQUALIZATION / E.Q.</text><text x="574" y="562">AUX SENDS</text><text x="574" y="613">PAN</text><text x="574" y="667">SOLO &amp; MUTE</text><text x="574" y="718">CHANNEL FADER</text>
</g>
<g font-size="7.3">
<text x="574" y="379" textLength="59" lengthAdjust="spacingAndGlyphs">3-PIN XLR CABLE INPUT</text><text x="574" y="387">for microphones.</text>
<text x="574" y="409" textLength="55" lengthAdjust="spacingAndGlyphs">line level source for</text><text x="574" y="417">TRS/TS cable.</text>
<text x="574" y="441" textLength="61" lengthAdjust="spacingAndGlyphs">for connecting external</text><text x="574" y="449" textLength="58" lengthAdjust="spacingAndGlyphs">processing equipment.</text>
<text x="574" y="470">adjust and control</text><text x="574" y="478">input signal level.</text>
<text x="574" y="515" textLength="61" lengthAdjust="spacingAndGlyphs">Adjust the tonal quality</text><text x="574" y="524" textLength="59" lengthAdjust="spacingAndGlyphs">of a signal by cutting</text><text x="574" y="532" textLength="58" lengthAdjust="spacingAndGlyphs">or boosting bass, mid</text><text x="574" y="541" textLength="60" lengthAdjust="spacingAndGlyphs">and treble frequencies.</text>
<text x="574" y="575" textLength="55" lengthAdjust="spacingAndGlyphs">Route a proportion of</text><text x="574" y="584">the signal to the</text><text x="574" y="592">effects unit output.</text>
<text x="574" y="625" textLength="58" lengthAdjust="spacingAndGlyphs">Adjusts the position of</text><text x="574" y="633" textLength="58" lengthAdjust="spacingAndGlyphs">the signal to any point</text><text x="574" y="642">in the stereo field.</text>
<text x="574" y="678">Solo the channel</text><text x="574" y="687" textLength="58" lengthAdjust="spacingAndGlyphs">individually or remove</text><text x="574" y="696" textLength="61" lengthAdjust="spacingAndGlyphs">the signal from the mix.</text>
<text x="574" y="729" textLength="59" lengthAdjust="spacingAndGlyphs">Sliding control used to</text><text x="574" y="738">adjust the channel</text><text x="574" y="747">signal within the mix.</text>
</g>
<g stroke="#888" stroke-width="1.5"><path d="M574,488 H635 M574,550 H635 M574,602 H635 M574,653 H635 M574,705 H635"/></g>

<!-- watermarks -->
<g clip-path="url(#page)" stroke="#bdbdbd" stroke-width="4.5" stroke-linecap="round" fill="none" opacity="0.75">
<path d="M167,95 V135 M167,145 V185 M122,140 H162 M172,140 H212 M423,95 V135 M423,145 V185 M378,140 H418 M428,140 H468 M679,95 V135 M679,145 V185 M634,140 H674 M684,140 H724"/>
<path d="M167,350 V390 M167,400 V440 M122,395 H162 M172,395 H212 M423,350 V390 M423,400 V440 M378,395 H418 M428,395 H468 M679,350 V390 M679,400 V440 M634,395 H674 M684,395 H724"/>
<path d="M167,605 V645 M167,655 V695 M122,650 H162 M172,650 H212 M423,605 V645 M423,655 V695 M378,650 H418 M428,650 H468 M679,605 V645 M679,655 V695 M634,650 H674 M684,650 H724"/>
<path d="M167,863 V903 M167,913 V953 M122,908 H162 M172,908 H212 M423,863 V903 M423,913 V953 M378,908 H418 M428,908 H468 M679,863 V903 M679,913 V953 M634,908 H674 M684,908 H724"/>
<path d="M12,-31 L38,1 M72,-31 L46,1 M38,9 L12,41 M46,9 L72,41 M267,-31 L293,1 M327,-31 L301,1 M293,9 L267,41 M301,9 L327,41 M522,-31 L548,1 M582,-31 L556,1 M548,9 L522,41 M556,9 L582,41"/>
<path d="M12,224 L38,256 M72,224 L46,256 M38,264 L12,296 M46,264 L72,296 M267,224 L293,256 M327,224 L301,256 M293,264 L267,296 M301,264 L327,296 M522,224 L548,256 M582,224 L556,256 M548,264 L522,296 M556,264 L582,296"/>
<path d="M12,481 L38,513 M72,481 L46,513 M38,521 L12,553 M46,521 L72,553 M267,481 L293,513 M327,481 L301,513 M293,521 L267,553 M301,521 L327,553 M522,481 L548,513 M582,481 L556,513 M548,521 L522,553 M556,521 L582,553"/>
<path d="M12,736 L38,768 M72,736 L46,768 M38,776 L12,808 M46,776 L72,808 M267,736 L293,768 M327,736 L301,768 M293,776 L267,808 M301,776 L327,808 M522,736 L548,768 M582,736 L556,768 M548,776 L522,808 M556,776 L582,808"/>
</g>
</svg>
</body></html>
